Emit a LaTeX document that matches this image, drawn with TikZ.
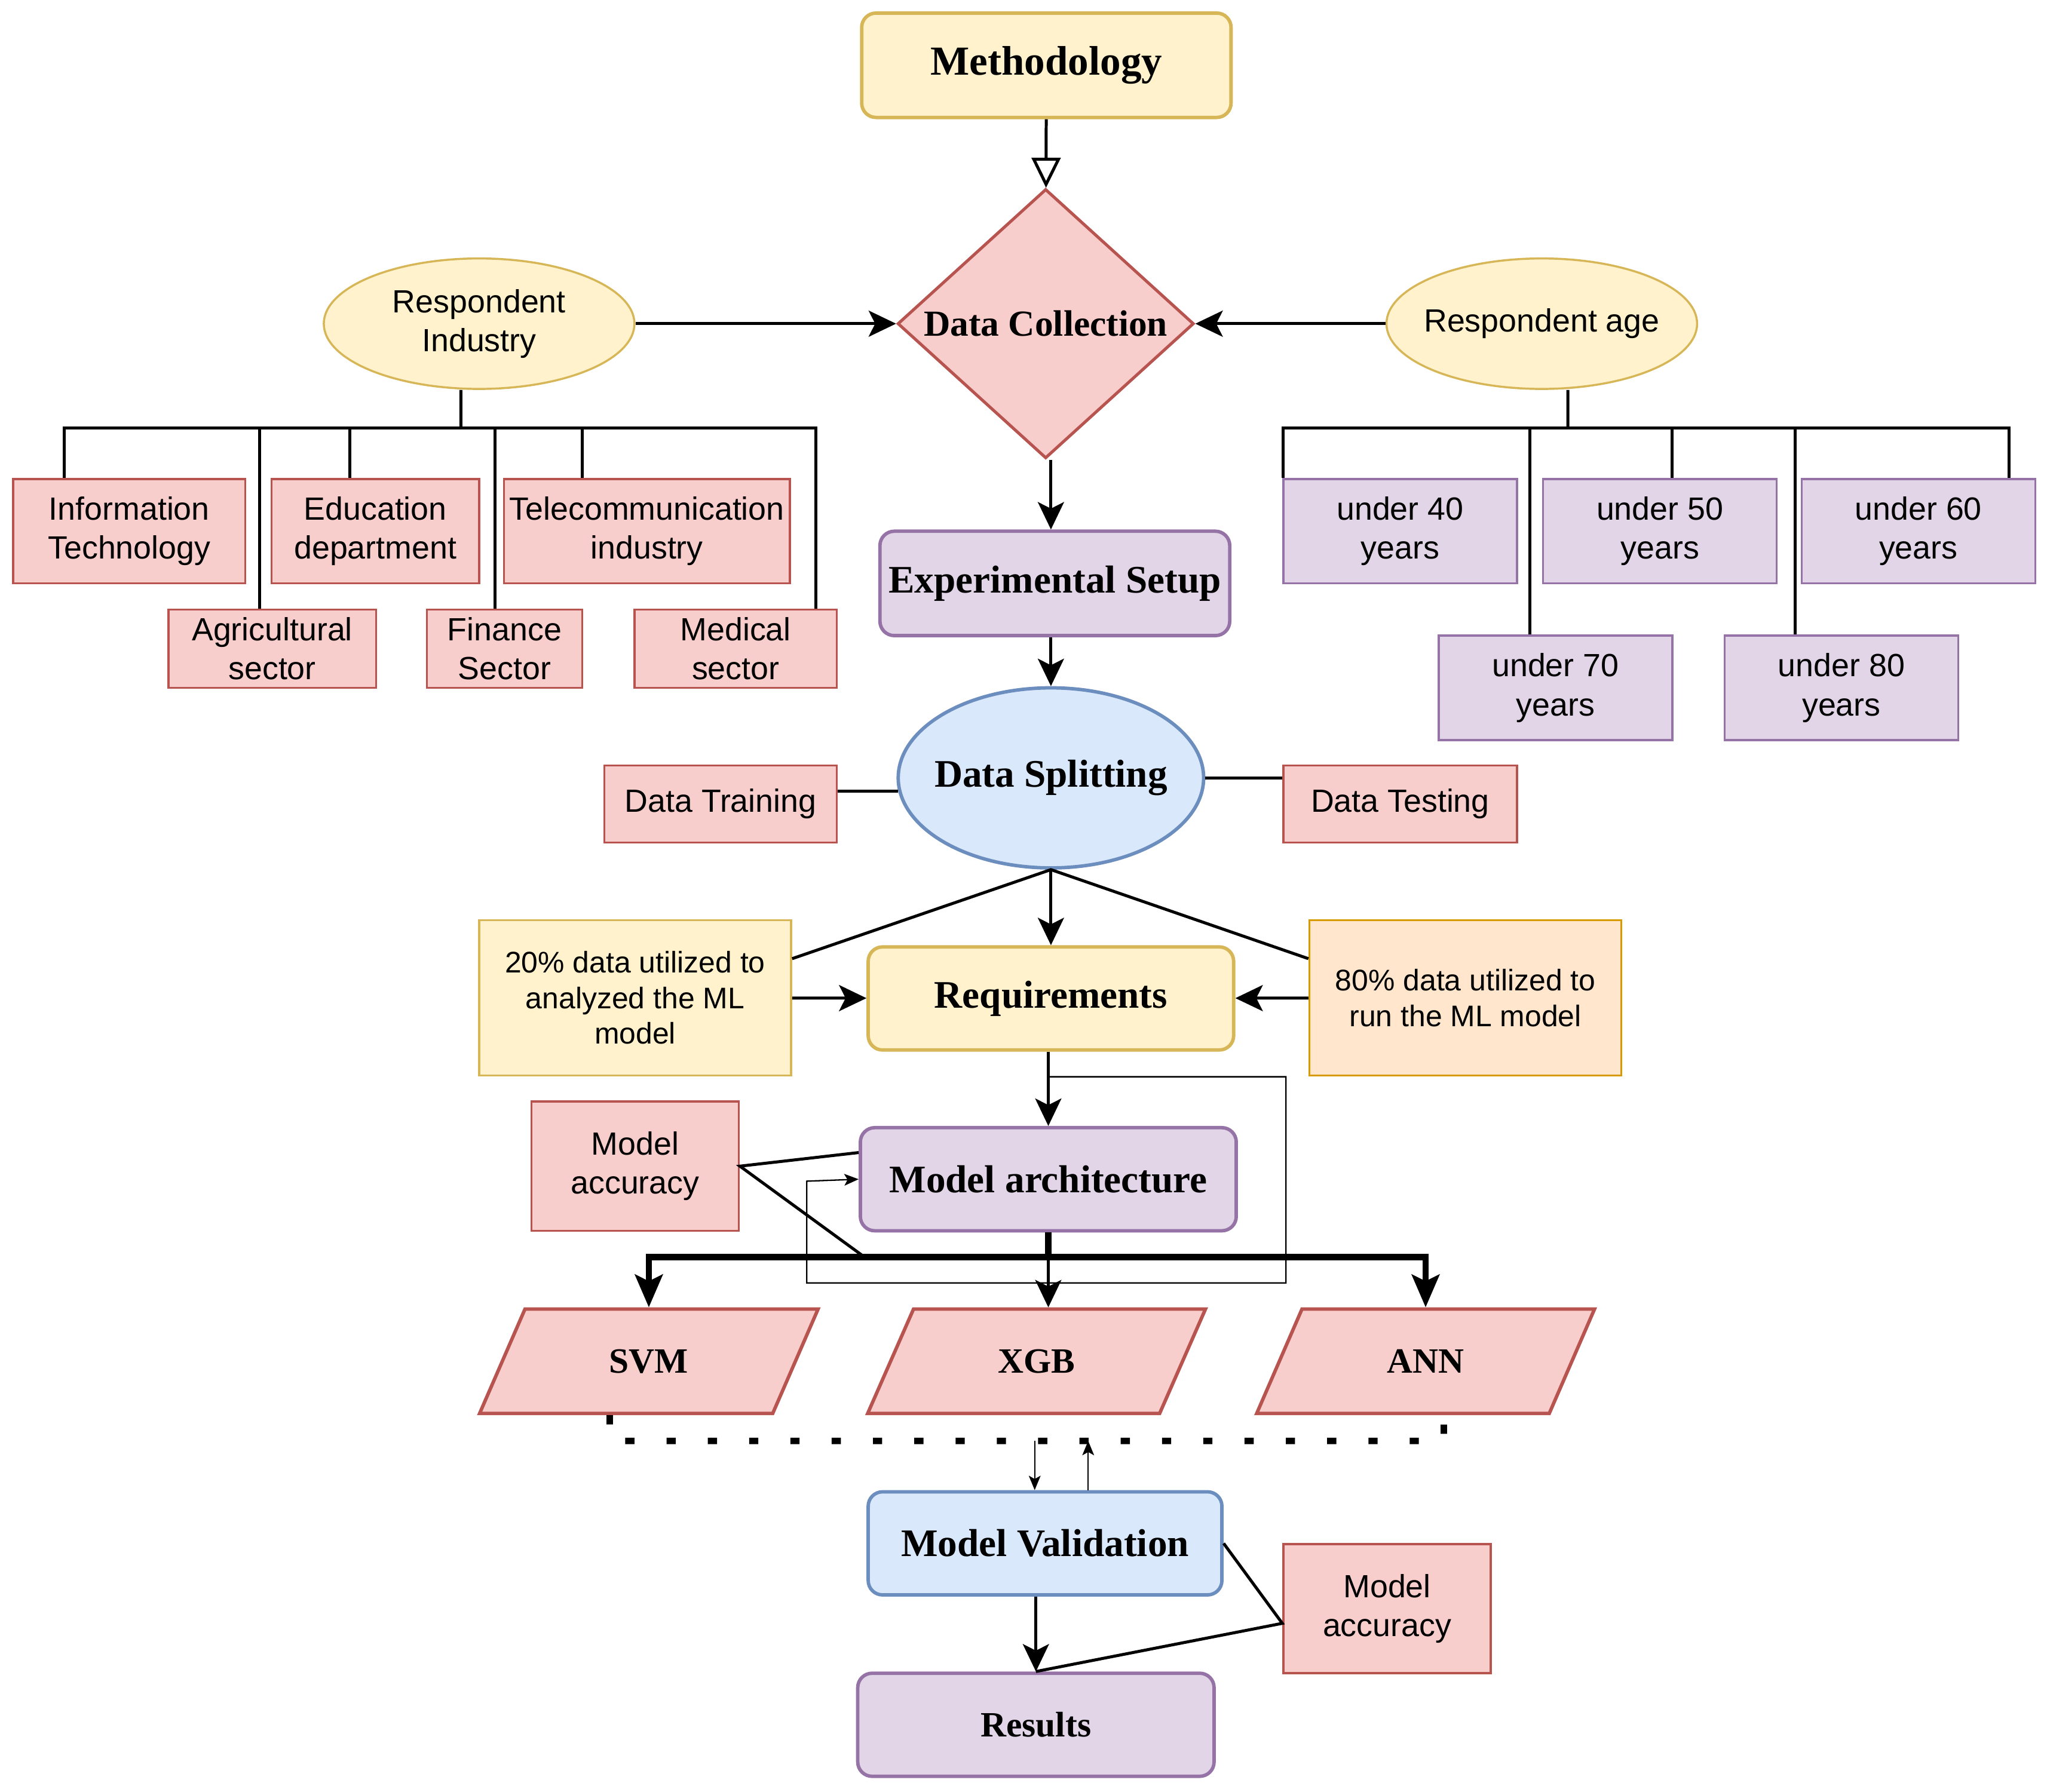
\documentclass[tikz,border=0pt]{standalone}
\usepackage{fontspec}
\setmainfont{Liberation Serif}
\setsansfont{Liberation Sans}
\usetikzlibrary{shapes.geometric,arrows.meta}

\definecolor{yfill}{HTML}{FFF2CC}
\definecolor{ydraw}{HTML}{D6B656}
\definecolor{rfill}{HTML}{F8CECC}
\definecolor{rdraw}{HTML}{B85450}
\definecolor{pfill}{HTML}{E1D5E7}
\definecolor{pdraw}{HTML}{9673A6}
\definecolor{bfill}{HTML}{DAE8FC}
\definecolor{bdraw}{HTML}{6C8EBF}
\definecolor{ofill}{HTML}{FFE6CC}
\definecolor{odraw}{HTML}{D79B00}

\tikzset{
  yel/.style={fill=yfill,draw=ydraw},
  pnk/.style={fill=rfill,draw=rdraw},
  ppl/.style={fill=pfill,draw=pdraw},
  blu/.style={fill=bfill,draw=bdraw},
  org/.style={fill=ofill,draw=odraw},
  sbox/.style={rectangle,line width=0.9pt,inner sep=0pt,align=center,font=\sffamily\fontsize{14}{17}\selectfont},
  mbox/.style={rectangle,rounded corners=0.22cm,line width=1.5pt,inner sep=0pt,font=\bfseries\fontsize{17}{20}\selectfont},
  algo/.style={trapezium,trapezium left angle=59,trapezium right angle=121,trapezium stretches=true,
    minimum width=5.2cm,minimum height=1.6cm,line width=1.5pt,pnk,inner sep=0pt,font=\bfseries\fontsize{15.5}{18}\selectfont},
  conn/.style={line width=1.3pt},
  arr/.style={conn,-{Stealth[length=0.42cm,width=0.4cm,inset=0.1cm]}},
  thinarr/.style={line width=0.6pt,-{Stealth[length=0.22cm,width=0.18cm,inset=0.05cm]}},
  busline/.style={line width=2.8pt},
}

\begin{document}
\begin{tikzpicture}[x=0.02cm,y=-0.02cm]
\useasboundingbox (0,0) rectangle (1568,1373);

\node[mbox,yel,minimum width=5.66cm,minimum height=1.6cm,font=\bfseries\fontsize{18}{21}\selectfont]
  (meth) at (801.5,50) {Methodology};
\node[diamond,pnk,line width=1.3pt,inner sep=0pt,minimum width=4.54cm,minimum height=4cm,
  font=\bfseries\fontsize{16}{19}\selectfont] (dc) at (801,248) {Data Collection};
\node[ellipse,yel,line width=0.9pt,inner sep=0pt,align=center,minimum width=4.76cm,minimum height=2cm,
  font=\sffamily\fontsize{14}{17}\selectfont] (ri) at (367,248) {Respondent\\Industry};
\node[ellipse,yel,line width=0.9pt,inner ysep=0pt,inner xsep=-0.2cm,minimum width=4.76cm,minimum height=2cm,
  font=\sffamily\fontsize{14}{17}\selectfont] (ra) at (1181,248) {Respondent age};

\node[sbox,pnk,minimum width=3.56cm,minimum height=1.6cm] (it) at (99,407) {Information\\Technology};
\node[sbox,pnk,minimum width=3.18cm,minimum height=1.6cm] (edu) at (287.5,407) {Education\\department};
\node[sbox,pnk,minimum width=4.38cm,minimum height=1.6cm] (tel) at (495.5,407) {Telecommunication\\industry};
\node[sbox,pnk,minimum width=3.18cm,minimum height=1.2cm] (agr) at (208.5,497) {Agricultural\\sector};
\node[sbox,pnk,minimum width=2.38cm,minimum height=1.2cm] (fin) at (386.5,497) {Finance\\Sector};
\node[sbox,pnk,minimum width=3.1cm,minimum height=1.2cm] (med) at (563.5,497) {Medical\\sector};

\node[sbox,ppl,minimum width=3.58cm,minimum height=1.6cm] (u40) at (1072.5,407) {under 40\\years};
\node[sbox,ppl,minimum width=3.58cm,minimum height=1.6cm] (u50) at (1271.5,407) {under 50\\years};
\node[sbox,ppl,minimum width=3.58cm,minimum height=1.6cm] (u60) at (1469.5,407) {under 60\\years};
\node[sbox,ppl,minimum width=3.58cm,minimum height=1.6cm] (u70) at (1191.5,527) {under 70\\years};
\node[sbox,ppl,minimum width=3.58cm,minimum height=1.6cm] (u80) at (1410.5,527) {under 80\\years};

\node[mbox,ppl,minimum width=5.36cm,minimum height=1.6cm] (setup) at (808,447) {Experimental Setup};
\node[ellipse,blu,line width=1.5pt,inner ysep=0pt,inner xsep=-0.15cm,minimum width=4.68cm,minimum height=2.76cm,
  font=\bfseries\fontsize{17}{20}\selectfont] (ds) at (805,596) {Data Splitting};
\node[sbox,pnk,minimum width=3.56cm,minimum height=1.18cm] (dtr) at (552,616) {Data Training};
\node[sbox,pnk,minimum width=3.58cm,minimum height=1.18cm] (dte) at (1072.5,616) {Data Testing};

\node[sbox,yel,minimum width=4.78cm,minimum height=2.38cm,font=\sffamily\fontsize{13}{15.5}\selectfont]
  (p20) at (486.5,764.5) {20\% data utilized to\\analyzed the ML\\model};
\node[sbox,org,minimum width=4.78cm,minimum height=2.38cm,font=\sffamily\fontsize{13}{15.5}\selectfont]
  (p80) at (1122.5,764.5) {80\% data utilized to\\run the ML model};
\node[mbox,yel,minimum width=5.6cm,minimum height=1.58cm] (req) at (805,765) {Requirements};
\node[mbox,ppl,minimum width=5.76cm,minimum height=1.58cm] (ma) at (803,903.5) {Model architecture};
\node[sbox,pnk,minimum width=3.18cm,minimum height=1.98cm] (mal) at (486.5,893.5) {Model\\accuracy};

\node[algo] (svm) at (497,1043) {SVM};
\node[algo] (xgb) at (794,1043) {XGB};
\node[algo] (ann) at (1092,1043) {ANN};

\node[mbox,blu,minimum width=5.42cm,minimum height=1.58cm] (mv) at (800.5,1182.5) {Model Validation};
\node[sbox,pnk,minimum width=3.18cm,minimum height=1.98cm] (mar) at (1062.5,1232.5) {Model\\accuracy};
\node[mbox,ppl,minimum width=5.46cm,minimum height=1.58cm,font=\bfseries\fontsize{15.5}{18}\selectfont]
  (res) at (793.5,1321.5) {Results};

\draw[conn,-{Triangle[open,length=0.46cm,width=0.44cm]}] (meth) -- (dc);
\draw[arr] (ri) -- (dc);
\draw[arr] (ra) -- (dc);

\coordinate (ib) at (353,328);
\draw[conn] ([xshift=-0.28cm]ri.south) -- (ib);
\draw[conn] (it.north -| 49,0) -- (49,328) -- (625,328) -- (med.north -| 625,0);
\foreach \x/\n in {199/agr,268/edu,379/fin,446/tel}
  \draw[conn] (\x,328) -- (\n.north -| \x,0);

\coordinate (ab) at (1201,328);
\draw[conn] ([xshift=0.4cm]ra.south) -- (ab);
\draw[conn] (u40.north -| 983,0) -- (983,328) -- (1539,328) -- (u60.north -| 1539,0);
\foreach \x/\n in {1172/u70,1281/u50,1375/u80}
  \draw[conn] (\x,328) -- (\n.north -| \x,0);

\draw[arr] (dc.south -| 805,0) -- (setup.north -| 805,0);
\draw[arr] (setup.south -| ds) -- (ds);
\draw[conn] (ds.185) -- (ds.185 -| dtr.east);
\draw[conn] (ds.east) -- (ds.east -| dte.west);

\draw[arr] (ds) -- (req);
\draw[conn] (p20.14) -- (ds.south) -- (p80.166);
\draw[arr] (p20) -- (req);
\draw[arr] (p80) -- (req);

\draw[arr] (req.south -| ma) -- (ma);
\coordinate (lp) at (803,825);
\draw[thinarr] (lp) -| (985,983) -| (618,905) -- (ma.west);

\coordinate (bm) at (662,963);
\draw[conn] (ma.172) -- (mal.east) -- (bm);

\coordinate (bus) at (803,963);
\draw[busline] (ma) -- (bus);
\draw[busline,-{Stealth[length=0.5cm,width=0.42cm,inset=0.1cm]}] (bus) -| (svm.north);
\draw[busline,-{Stealth[length=0.5cm,width=0.42cm,inset=0.1cm]}] (bus) -| (ann.north);
\draw[arr] (bus) -- (xgb.north -| bus);

\coordinate (dotl) at (467,1104);
\draw[line width=2.8pt,dash pattern=on 4pt off 14pt] ([xshift=-0.6cm]svm.south) -- (dotl) -| ([xshift=0.28cm]ann.south);
\draw[thinarr] (mv.101 |- dotl) -- (mv.101);
\draw[thinarr] (mv.51) -- (mv.51 |- dotl);

\draw[conn] (mv.east) -- (mar.188) -- (res.north);
\draw[arr] (res.north |- mv.south) -- (res.north);

\end{tikzpicture}
\end{document}
